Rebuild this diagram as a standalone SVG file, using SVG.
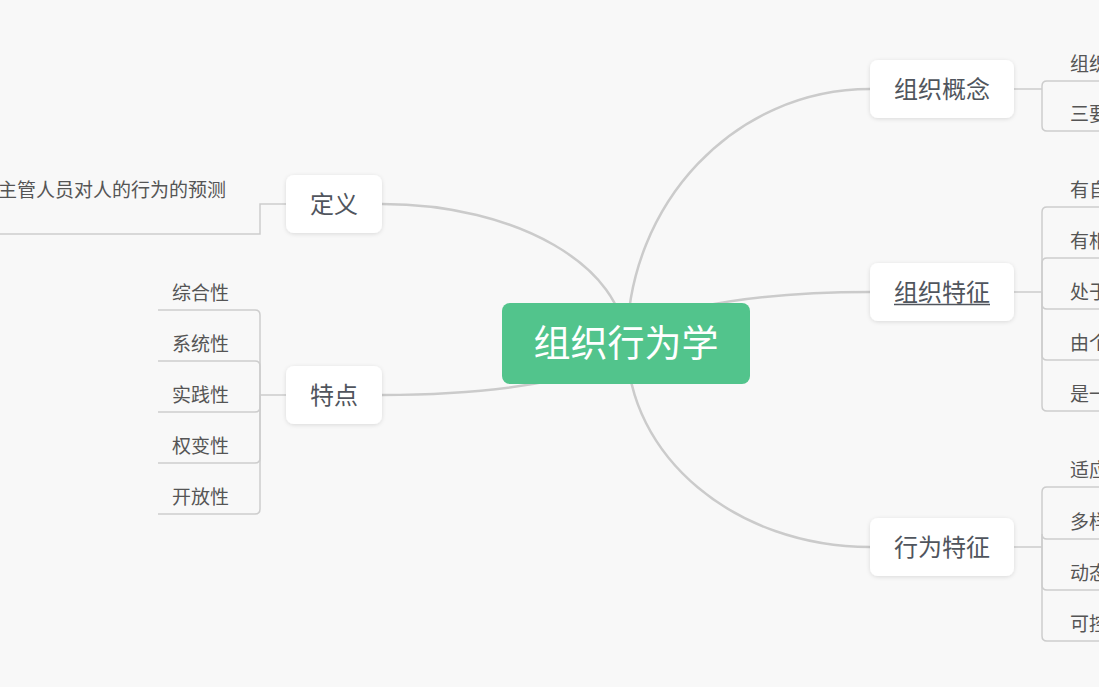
<svg xmlns="http://www.w3.org/2000/svg" width="1099" height="687" viewBox="0 0 1099 687">
<defs>
<filter id="sh" x="-20%" y="-30%" width="140%" height="160%">
<feDropShadow dx="0" dy="1" stdDeviation="2" flood-color="#000" flood-opacity="0.12"/>
</filter>
<style>
.main{fill:none;stroke:#cbcbcb;stroke-width:2.5;stroke-linecap:round}
.leaf{fill:none;stroke:#cdcdcd;stroke-width:1.5}
.node{fill:#ffffff;filter:url(#sh)}
.nt{font-family:"Noto Sans CJK SC","Noto Sans",sans-serif;font-size:24px;fill:#50555d;text-anchor:middle}
.lt{font-family:"Noto Sans CJK SC","Noto Sans",sans-serif;font-size:19px;fill:#555555}
</style>
</defs>
<rect x="0" y="0" width="1099" height="687" fill="#f8f8f8"/>
<g id="connectors">
<path class="main" d="M627,344 C627,203.2 735.2,89 870,89"/>
<path class="main" d="M627,344 C627,315.3 735.2,292 870,292"/>
<path class="main" d="M627,344 C627,456.1 735.2,547 870,547"/>
<path class="main" d="M625,344 C625,266.7 516.8,204 382,204"/>
<path class="main" d="M625,344 C625,372.2 516.8,395 382,395"/>
<!-- 定义 leaf -->
<path class="leaf" d="M286,204 H260 V234 H-2"/>
<!-- 特点 leaves -->
<path class="leaf" d="M286,395 H260"/>
<path class="leaf" d="M260,395 V315 Q260,310 255,310 H158"/>
<path class="leaf" d="M260,395 V366 Q260,361 255,361 H158"/>
<path class="leaf" d="M260,395 V407 Q260,412 255,412 H158"/>
<path class="leaf" d="M260,395 V458 Q260,463 255,463 H158"/>
<path class="leaf" d="M260,395 V509 Q260,514 255,514 H158"/>
<!-- 组织概念 leaves -->
<path class="leaf" d="M1014,89 H1042"/>
<path class="leaf" d="M1042,89 V86 Q1042,81 1047,81 H1101"/>
<path class="leaf" d="M1042,89 V126 Q1042,131 1047,131 H1101"/>
<!-- 组织特征 leaves -->
<path class="leaf" d="M1014,292 H1042"/>
<path class="leaf" d="M1042,292 V212 Q1042,207 1047,207 H1101"/>
<path class="leaf" d="M1042,292 V263 Q1042,258 1047,258 H1101"/>
<path class="leaf" d="M1042,292 V304 Q1042,309 1047,309 H1101"/>
<path class="leaf" d="M1042,292 V355 Q1042,360 1047,360 H1101"/>
<path class="leaf" d="M1042,292 V406 Q1042,411 1047,411 H1101"/>
<!-- 行为特征 leaves -->
<path class="leaf" d="M1014,547 H1042"/>
<path class="leaf" d="M1042,547 V492 Q1042,487 1047,487 H1101"/>
<path class="leaf" d="M1042,547 V534 Q1042,539 1047,539 H1101"/>
<path class="leaf" d="M1042,547 V585 Q1042,590 1047,590 H1101"/>
<path class="leaf" d="M1042,547 V636 Q1042,641 1047,641 H1101"/>
</g>
<g id="root">
<rect x="502" y="303" width="248" height="81" rx="8" fill="#52c48c"/>
<text x="626" y="357" font-family="'Noto Sans CJK SC','Noto Sans',sans-serif" font-size="37" fill="#ffffff" text-anchor="middle">组织行为学</text>
</g>
<g id="node-dingyi">
<rect class="node" x="286" y="175" width="96" height="58" rx="8"/>
<text class="nt" x="334" y="213">定义</text>
</g>
<g id="leaf-dingyi">
<text class="lt" x="226" y="197" text-anchor="end">主管人员对人的行为的预测</text>
</g>
<g id="node-tedian">
<rect class="node" x="286" y="366" width="96" height="58" rx="8"/>
<text class="nt" x="334" y="404">特点</text>
</g>
<g id="leaves-tedian">
<text class="lt" x="172" y="300">综合性</text>
<text class="lt" x="172" y="351">系统性</text>
<text class="lt" x="172" y="402">实践性</text>
<text class="lt" x="172" y="453">权变性</text>
<text class="lt" x="172" y="504">开放性</text>
</g>
<g id="node-zuzhigainian">
<rect class="node" x="870" y="60" width="144" height="58" rx="8"/>
<text class="nt" x="942" y="98">组织概念</text>
</g>
<g id="leaves-zuzhigainian">
<text class="lt" x="1070" y="71">组织</text>
<text class="lt" x="1070" y="121">三要</text>
</g>
<g id="node-zuzhitezheng">
<rect class="node" x="870" y="263" width="144" height="58" rx="8"/>
<text class="nt" x="942" y="301">组织特征</text>
<line x1="894" y1="304.5" x2="990" y2="304.5" stroke="#50555d" stroke-width="1.5"/>
</g>
<g id="leaves-zuzhitezheng">
<text class="lt" x="1070" y="197">有自</text>
<text class="lt" x="1070" y="248">有相</text>
<text class="lt" x="1070" y="299">处于</text>
<text class="lt" x="1070" y="350">由个</text>
<text class="lt" x="1070" y="401">是一</text>
</g>
<g id="node-xingweitezheng">
<rect class="node" x="870" y="518" width="144" height="58" rx="8"/>
<text class="nt" x="942" y="556">行为特征</text>
</g>
<g id="leaves-xingweitezheng">
<text class="lt" x="1070" y="477">适应</text>
<text class="lt" x="1070" y="529">多样</text>
<text class="lt" x="1070" y="580">动态</text>
<text class="lt" x="1070" y="631">可控</text>
</g>
</svg>
